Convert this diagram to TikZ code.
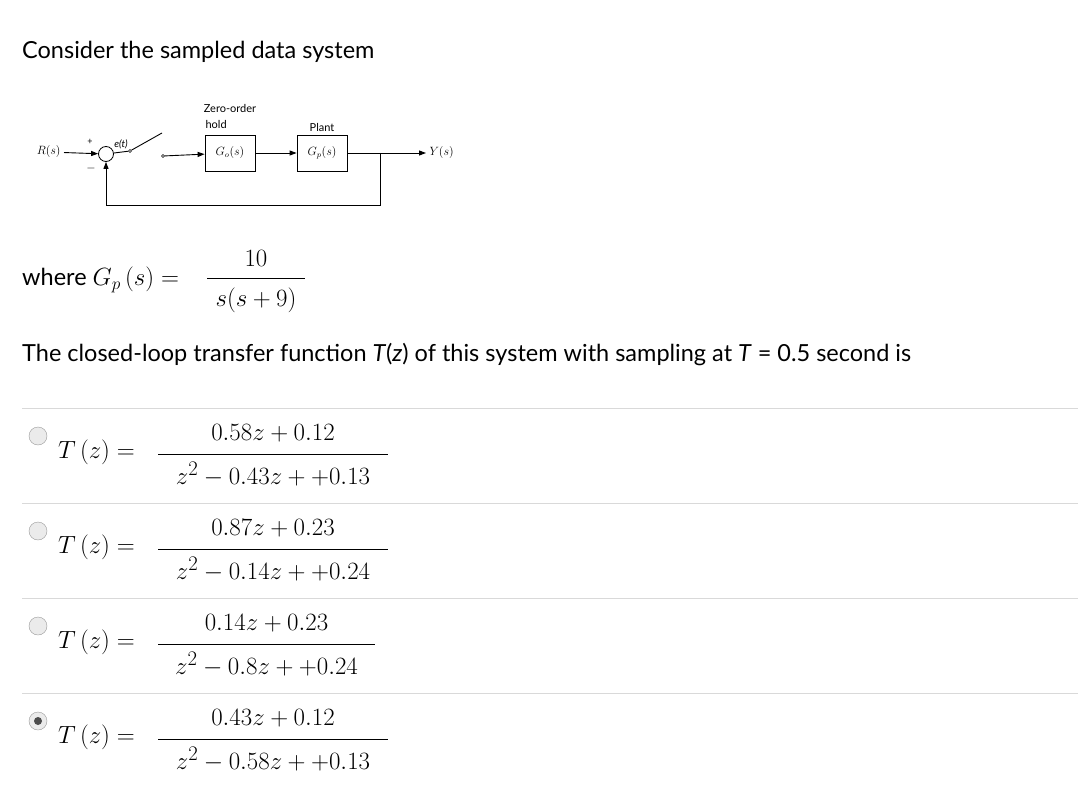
\documentclass[tikz,border=0pt]{standalone}
\usepackage{fontspec}
\setmainfont{Lato}
\usepackage{amsmath}
\usetikzlibrary{arrows.meta}
\begin{document}
\begin{tikzpicture}[x=1pt,y=-1pt,
  blk/.style={draw,line width=0.8pt,minimum width=50pt,minimum height=36pt,font=\fontsize{12}{14}\selectfont\rmfamily},
  sig/.style={line width=0.9pt,-{Triangle[length=7pt,width=5pt]}},
  wire/.style={line width=0.9pt},
  lbl/.style={font=\fontsize{12}{13}\selectfont\rmfamily},
  txt/.style={anchor=west,inner sep=0pt,font=\fontsize{23.5}{28}\selectfont},
  sep/.style={draw=black!15,line width=1pt},
  radio/.style={circle,draw=black!40,fill=black!8,minimum size=18pt,inner sep=0pt},
  ans/.style={anchor=west,inner sep=0pt,font=\fontsize{27}{30}\selectfont},
  fr/.style={inner sep=0pt,font=\fontsize{29}{32}\selectfont}]
\useasboundingbox (0,0) rectangle (1081,802);
\node[txt] (t1) at (22,52) {Consider the sampled data system};
% block diagram
\node[lbl,anchor=east] (R) at (64,152) {$R(s)$};
\node[circle,draw,line width=0.8pt,minimum size=15pt,inner sep=0pt] (sum) at (106,154) {};
\node[lbl,font=\fontsize{9}{10}\selectfont] (plus) at (90,142) {+};
\node[lbl,font=\fontsize{12}{12}\selectfont] (minus) at (91,169) {$-$};
\node[lbl,font=\fontsize{10}{10}\selectfont\rmfamily\itshape] (e) at (121,144) {e(t)};
\node[circle,draw,minimum size=3pt,inner sep=0pt] (s1) at (130,151) {};
\coordinate (sarm) at (162,133);
\node[circle,draw,minimum size=3pt,inner sep=0pt] (s2) at (163,156) {};
\node[blk] (zoh) at (230,153) {$G_o(s)$};
\node[blk] (gp) at (322,153) {$G_p(s)$};
\node[lbl,font=\fontsize{11}{12}\selectfont\rmfamily] (z1) at (230,108) {Zero-order};
\node[lbl,font=\fontsize{11}{12}\selectfont\rmfamily,anchor=west] (z2) at (202,124) {hold};
\node[lbl,font=\fontsize{11}{12}\selectfont\rmfamily] (pl) at (322,127) {Plant};
\node[lbl,anchor=west] (Y) at (426,153) {$Y(s)$};
\coordinate (br) at (380,153);
\coordinate (fb1) at (380,205);
\coordinate (fb2) at (106,205);
\draw[sig] (R) -- (sum);
\draw[wire] (sum) -- (s1);
\draw[wire] (s1) -- (sarm);
\draw[sig] (s2) -- (zoh);
\draw[sig] (zoh) -- (gp);
\draw[sig] (gp) -- (Y);
\draw[sig] (br) -- (fb1) -- (fb2) -- (sum);
% Gp
\node[txt] (w) at (22,280) {where {\fontsize{27}{30}\selectfont$G_p\left(s\right)=$}};
\node[fr,font=\fontsize{25}{28}\selectfont] (wn) at (256,258) {$10$};
\node[fr,font=\fontsize{25}{28}\selectfont] (wd) at (256,300) {$s(s+9)$};
\draw[line width=1pt] (207,279) -- (305,279);
\node[txt] (t2) at (22,355) {The closed-loop transfer function \textit{T}(\textit{z}) of this system with sampling at \textit{T} = 0.5 second is};
% options
\foreach \y/\n/\d/\sel/\w in {408/0.58z+0.12/z^2-0.43z++0.13/0/388,503/0.87z+0.23/z^2-0.14z++0.24/0/388,598/0.14z+0.23/z^2-0.8z++0.24/0/375,693/0.43z+0.12/z^2-0.58z++0.13/1/388}{
  \draw[sep] (22,\y) -- (1078,\y);
  \node[radio] (r\y) at (38,\y+28) {};
  \ifnum\sel=1 \node[circle,fill=black!70,minimum size=8pt,inner sep=0pt] (d\y) at (38,\y+28) {};\fi
  \node[ans] (a\y) at (58,\y+44) {$T\left(z\right)=$};
  \node[fr] (n\y) at ({(158+\w)/2},\y+25) {$\n$};
  \node[fr] (q\y) at ({(158+\w)/2},\y+66) {$\d$};
  \draw[line width=1pt] (158,\y+46) -- (\w,\y+46);
}
\end{tikzpicture}
\end{document}
